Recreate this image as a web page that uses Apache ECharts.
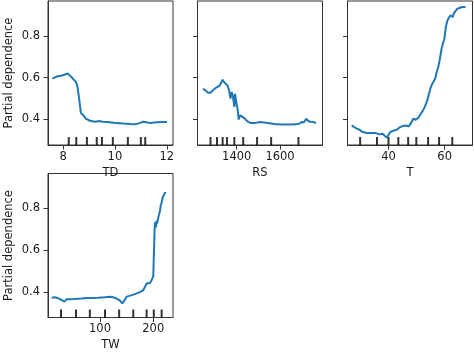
<!DOCTYPE html>
<html>
<head>
<meta charset="utf-8">
<script src="https://cdn.jsdelivr.net/npm/echarts@6.0.0/dist/echarts.min.js"></script>
<style>
  html, body { margin: 0; padding: 0; background: #fff; }
  #chart { width: 474px; height: 353px; }
</style>
</head>
<body>
<div id="chart"></div>
<script>
// shared y range of all four panels
const yMin = 0.277
const yMax = 0.968
const yTicks = [0.4, 0.6, 0.8]

// TD
const tdX = [7.59, 7.67, 7.79, 7.92, 8.05, 8.18, 8.25, 8.37, 8.50, 8.56, 8.62, 8.69, 8.79, 8.88, 9.07, 9.26, 9.39, 9.52, 9.71, 9.94, 10.07, 10.32, 10.58, 10.77, 10.96, 11.09, 11.22, 11.35, 11.60, 11.86, 12.01]
const tdY = [0.595, 0.600, 0.607, 0.609, 0.614, 0.620, 0.615, 0.597, 0.579, 0.555, 0.499, 0.430, 0.419, 0.403, 0.392, 0.389, 0.392, 0.389, 0.387, 0.384, 0.382, 0.380, 0.378, 0.377, 0.382, 0.389, 0.386, 0.382, 0.386, 0.387, 0.387]
const tdDeciles = [8.22, 8.51, 8.92, 9.30, 9.50, 9.92, 10.5, 11.0, 11.17]
const tdTicks = [8, 10, 12]

// RS
const rsX = [1244, 1256, 1268, 1279, 1294, 1309, 1320, 1329, 1335, 1341, 1350, 1357, 1365, 1371, 1377, 1383, 1389, 1392, 1398, 1405, 1409, 1415, 1423, 1435, 1450, 1465, 1483, 1506, 1536, 1566, 1582, 1612, 1642, 1673, 1688, 1700, 1710, 1721, 1730, 1741, 1756, 1766]
const rsY = [0.547, 0.539, 0.528, 0.528, 0.543, 0.555, 0.560, 0.568, 0.590, 0.579, 0.571, 0.563, 0.539, 0.500, 0.531, 0.507, 0.460, 0.523, 0.483, 0.443, 0.399, 0.419, 0.419, 0.406, 0.390, 0.382, 0.382, 0.387, 0.384, 0.379, 0.376, 0.375, 0.375, 0.376, 0.379, 0.387, 0.386, 0.403, 0.392, 0.389, 0.387, 0.382]
const rsDeciles = [1279, 1309, 1335, 1355, 1389, 1430, 1494, 1559, 1685]
const rsTicks = [1400, 1600]

// T
const tX = [26.9, 27.8, 28.8, 29.6, 30.8, 32.0, 33.8, 35.5, 36.7, 37.9, 38.5, 39.4, 39.9, 40.6, 41.4, 42.0, 43.0, 43.8, 45.0, 46.2, 47.1, 47.9, 48.8, 49.7, 50.6, 51.5, 52.3, 53.0, 53.8, 54.4, 55.0, 55.6, 56.6, 57.0, 57.7, 58.2, 58.9, 59.4, 59.9, 60.4, 60.9, 61.5, 62.1, 62.5, 62.9, 63.3, 63.9, 64.5, 65.1, 66.2, 67.4]
const tY = [0.371, 0.363, 0.355, 0.351, 0.339, 0.336, 0.334, 0.334, 0.328, 0.331, 0.323, 0.312, 0.318, 0.339, 0.344, 0.339, 0.351, 0.360, 0.368, 0.371, 0.366, 0.379, 0.403, 0.398, 0.408, 0.427, 0.443, 0.462, 0.491, 0.523, 0.552, 0.571, 0.595, 0.619, 0.651, 0.683, 0.739, 0.766, 0.787, 0.843, 0.872, 0.888, 0.899, 0.907, 0.891, 0.910, 0.920, 0.931, 0.936, 0.939, 0.939]
const tDeciles = [29.9, 35.9, 40.0, 43.5, 47.0, 49.9, 54.1, 58.0, 62.7]
const tTicks = [40, 60]

// TW
const twX = [9.4, 15.6, 21.8, 28.2, 33.1, 37.6, 43.8, 53.1, 65.7, 75.1, 84.4, 96.8, 109.4, 118.8, 124.9, 131.3, 137.5, 141.8, 145.6, 150.1, 158.1, 165.6, 175, 181.2, 184.4, 187.6, 190.6, 193.8, 196.9, 200, 201.5, 202.5, 203.5, 205, 206.4, 207.5, 209.4, 212.6, 213.9, 215.7, 217.6, 220.1, 221.9, 223.8]
const twY = [0.372, 0.374, 0.369, 0.361, 0.353, 0.365, 0.365, 0.366, 0.368, 0.370, 0.371, 0.372, 0.374, 0.377, 0.374, 0.368, 0.358, 0.345, 0.358, 0.377, 0.383, 0.389, 0.399, 0.408, 0.416, 0.440, 0.448, 0.443, 0.456, 0.475, 0.480, 0.700, 0.735, 0.710, 0.742, 0.729, 0.757, 0.789, 0.813, 0.829, 0.853, 0.866, 0.876, 0.872]
const twDeciles = [26.9, 55, 81, 109.4, 136, 162.5, 187.5, 201, 215.7]
const twTicks = [100, 200]

const panels = [
  { name: 'TD', xs: tdX, ys: tdY, rug: tdDeciles, ticks: tdTicks, min: 7.42, max: 12.24, left: 48, top: 1, yLabels: true },
  { name: 'RS', xs: rsX, ys: rsY, rug: rsDeciles, ticks: rsTicks, min: 1219, max: 1796, left: 197.5, top: 1, yLabels: false },
  { name: 'T', xs: tX, ys: tY, rug: tDeciles, ticks: tTicks, min: 25.4, max: 69.9, left: 347.5, top: 1, yLabels: false },
  { name: 'TW', xs: twX, ys: twY, rug: twDeciles, ticks: twTicks, min: 2.5, max: 237, left: 48, top: 173.5, yLabels: true },
]

const font = 'DejaVu Sans'
const ink = '#1a1a1a'
const frame = '#333'

const option = {
  animation: false,
  backgroundColor: '#fff',
  textStyle: { fontFamily: font },
  grid: panels.map(p => ({
    left: p.left, top: p.top, width: 125, height: 144,
    show: true, borderColor: frame, borderWidth: 1, backgroundColor: 'transparent',
  })),
  xAxis: panels.map((p, i) => ({
    type: 'value', gridIndex: i, min: p.min, max: p.max,
    name: p.name, nameLocation: 'middle', nameGap: 22,
    nameTextStyle: { fontSize: 11.5, color: ink, fontFamily: font },
    axisLine: { show: true, lineStyle: { color: frame, width: 1 } },
    axisTick: { show: true, length: 4.5, lineStyle: { color: frame }, customValues: p.ticks },
    axisLabel: { fontSize: 11.5, color: ink, margin: 6, fontFamily: font, customValues: p.ticks, formatter: v => String(v) },
    splitLine: { show: false },
  })),
  yAxis: panels.map((p, i) => ({
    type: 'value', gridIndex: i, min: yMin, max: yMax,
    name: p.yLabels ? 'Partial dependence' : '', nameLocation: 'middle', nameGap: 33,
    nameTextStyle: { fontSize: 11.5, color: ink, fontFamily: font },
    axisLine: { show: true, lineStyle: { color: frame, width: 1 } },
    axisTick: { show: true, length: 4.5, lineStyle: { color: frame }, customValues: yTicks },
    axisLabel: { show: p.yLabels, fontSize: 11.5, color: ink, margin: 8, fontFamily: font, customValues: yTicks, formatter: v => v.toFixed(1) },
    splitLine: { show: false },
  })),
  series: [],
}

panels.forEach((p, i) => {
  option.series.push({
    type: 'line', xAxisIndex: i, yAxisIndex: i,
    data: p.xs.map((x, k) => [x, p.ys[k]]),
    showSymbol: false, symbol: 'none',
    lineStyle: { color: '#1f77b4', width: 2 },
    z: 3,
  })
  // decile rug marks along the bottom of each panel
  option.series.push({
    type: 'scatter', xAxisIndex: i, yAxisIndex: i,
    data: p.rug.map(d => [d, yMin]),
    symbol: 'rect', symbolSize: [2, 8], symbolOffset: [0, -4],
    itemStyle: { color: '#000' },
    clip: false, silent: true, z: 2,
  })
})

const chart = echarts.init(document.getElementById('chart'))
chart.setOption(option)
</script>
</body>
</html>
